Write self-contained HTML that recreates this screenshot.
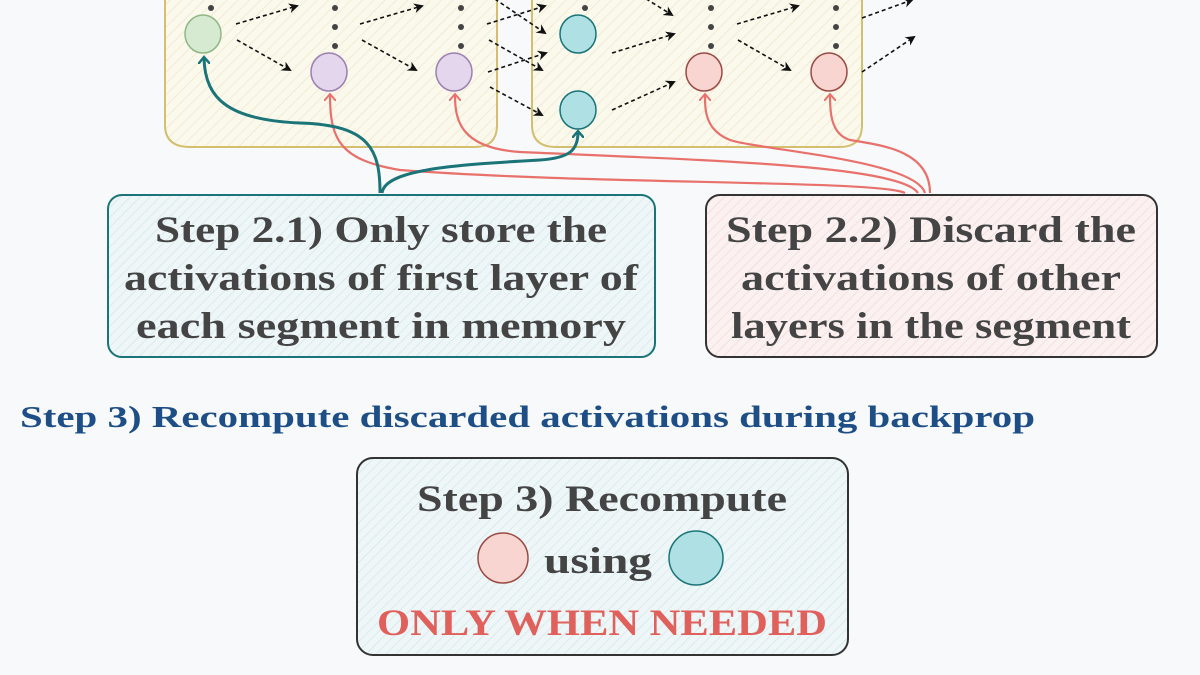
<!DOCTYPE html>
<html><head><meta charset="utf-8"><style>
html,body{margin:0;padding:0;background:#f8f9fb;}
svg{display:block}
text{font-family:"Liberation Serif",serif;font-weight:bold;}
</style></head><body>
<svg width="1200" height="675" viewBox="0 0 1200 675" xmlns="http://www.w3.org/2000/svg">
<defs>
<pattern id="hy" width="8" height="8" patternUnits="userSpaceOnUse" patternTransform="rotate(45)">
<rect width="8" height="8" fill="#fbf8ec"/><line x1="0" y1="0" x2="0" y2="8" stroke="#efe8cf" stroke-width="1.5"/></pattern>
<pattern id="hc" width="7" height="7" patternUnits="userSpaceOnUse" patternTransform="rotate(45)">
<rect width="7" height="7" fill="#eef6f7"/><line x1="0" y1="0" x2="0" y2="7" stroke="#cfe6ea" stroke-width="1.3"/></pattern>
<pattern id="hp" width="7" height="7" patternUnits="userSpaceOnUse" patternTransform="rotate(45)">
<rect width="7" height="7" fill="#fbf1f1"/><line x1="0" y1="0" x2="0" y2="7" stroke="#f3d6d6" stroke-width="1.3"/></pattern>
<marker id="ab" markerWidth="10" markerHeight="10" refX="8" refY="5" orient="auto" markerUnits="userSpaceOnUse"><path d="M0,0 L10,5 L0,10 L3,5z" fill="#111"/></marker>
<marker id="ar" markerWidth="12" markerHeight="12" refX="6" refY="6" orient="auto" markerUnits="userSpaceOnUse"><path d="M0,0 L7,6 L0,12" fill="none" stroke="#e8716c" stroke-width="2"/></marker>
<marker id="at" markerWidth="12" markerHeight="12" refX="6" refY="6" orient="auto" markerUnits="userSpaceOnUse"><path d="M0,0 L7,6 L0,12" fill="none" stroke="#1a7478" stroke-width="2.5"/></marker>
</defs>
<path d="M165,-20 L165,125 Q165,147 190,147 L475,147 Q497,147 497,125 L497,-20" fill="url(#hy)" stroke="#d3bf6e" stroke-width="2"/>
<path d="M532,-20 L532,125 Q532,147 556,147 L840,147 Q862,147 862,125 L862,-20" fill="url(#hy)" stroke="#d3bf6e" stroke-width="2"/>
<g fill="#444">
<circle cx="211" cy="8" r="3"/>
<circle cx="335" cy="8" r="3"/><circle cx="335" cy="27" r="3"/><circle cx="335" cy="46" r="3"/>
<circle cx="461" cy="8" r="3"/><circle cx="461" cy="27" r="3"/><circle cx="461" cy="46" r="3"/>
<circle cx="585" cy="8" r="3"/>
<circle cx="711" cy="8" r="3"/><circle cx="711" cy="27" r="3"/><circle cx="711" cy="46" r="3"/>
<circle cx="836" cy="8" r="3"/><circle cx="836" cy="27" r="3"/><circle cx="836" cy="46" r="3"/>
</g>
<g stroke="#111" stroke-width="1.6" stroke-dasharray="4,3" fill="none" marker-end="url(#ab)">
<path d="M236,24 L297,6"/><path d="M237,40 L290,70"/>
<path d="M360,24 L422,6"/><path d="M362,40 L416,70"/>
<path d="M487,24 L545,6" /><path d="M489,40 L542,70"/>
<path d="M488,72 L546,53"/><path d="M490,87 L542,115"/>
<path d="M489,-5 L545,33"/>
<path d="M612,53 L674,34"/><path d="M612,110 L674,82"/>
<path d="M640,-5 L672,15"/>
<path d="M737,24 L798,6"/><path d="M738,40 L790,70"/>
<path d="M862,18 L912,0"/><path d="M862,72 L914,37"/>
</g>
<ellipse cx="203" cy="34" rx="18" ry="19" fill="#d5ead0" stroke="#8fb885" stroke-width="1.5"/>
<ellipse cx="329" cy="72" rx="18" ry="19" fill="#e4d6ec" stroke="#9b80b0" stroke-width="1.5"/>
<ellipse cx="454" cy="72" rx="18" ry="19" fill="#e4d6ec" stroke="#9b80b0" stroke-width="1.5"/>
<ellipse cx="578" cy="34" rx="18" ry="19" fill="#aee0e4" stroke="#1a7478" stroke-width="1.5"/>
<ellipse cx="578" cy="110" rx="18" ry="19" fill="#aee0e4" stroke="#1a7478" stroke-width="1.5"/>
<ellipse cx="704" cy="72" rx="18" ry="19" fill="#f8d5d0" stroke="#9a4a45" stroke-width="1.5"/>
<ellipse cx="829" cy="72" rx="18" ry="19" fill="#f8d5d0" stroke="#9a4a45" stroke-width="1.5"/>
<g stroke="#e8716c" stroke-width="2.2" fill="none" marker-end="url(#ar)">
<path d="M905,193 C880,180 600,185 400,170 C340,160 330,140 330,95"/>
<path d="M918,193 C900,165 700,160 520,152 C460,148 455,120 455,95"/>
<path d="M925,193 C915,160 760,150 730,140 C705,130 705,110 705,95"/>
<path d="M930,193 C930,150 880,145 850,140 C830,134 830,110 830,95"/>
</g>
<g stroke="#1a7478" stroke-width="3" fill="none" marker-end="url(#at)">
<path d="M380,193 C380,150 370,125 300,123 C230,120 205,100 204,58"/>
<path d="M382,193 C385,170 450,165 540,160 C570,158 578,150 578,132"/>
</g>
<rect x="108" y="195" width="547" height="162" rx="14" fill="url(#hc)" stroke="#1a7478" stroke-width="2"/>
<text x="381" y="242" font-size="37" fill="#444" text-anchor="middle" textLength="452" lengthAdjust="spacingAndGlyphs">Step 2.1) Only store the</text>
<text x="381" y="290" font-size="37" fill="#444" text-anchor="middle" textLength="514" lengthAdjust="spacingAndGlyphs">activations of first layer of</text>
<text x="381" y="338" font-size="37" fill="#444" text-anchor="middle" textLength="490" lengthAdjust="spacingAndGlyphs">each segment in memory</text>
<rect x="706" y="195" width="451" height="162" rx="14" fill="url(#hp)" stroke="#333" stroke-width="2"/>
<text x="931" y="242" font-size="37" fill="#444" text-anchor="middle" textLength="410" lengthAdjust="spacingAndGlyphs">Step 2.2) Discard the</text>
<text x="931" y="290" font-size="37" fill="#444" text-anchor="middle" textLength="380" lengthAdjust="spacingAndGlyphs">activations of other</text>
<text x="931" y="338" font-size="37" fill="#444" text-anchor="middle" textLength="400" lengthAdjust="spacingAndGlyphs">layers in the segment</text>
<text x="20" y="427" font-size="31" fill="#1d4f86" textLength="1015" lengthAdjust="spacingAndGlyphs">Step 3) Recompute discarded activations during backprop</text>
<rect x="357" y="458" width="491" height="197" rx="16" fill="url(#hc)" stroke="#333" stroke-width="2"/>
<text x="602" y="511" font-size="37" fill="#444" text-anchor="middle" textLength="370" lengthAdjust="spacingAndGlyphs">Step 3) Recompute</text>
<circle cx="503" cy="558" r="25" fill="#f8d5d0" stroke="#9a4a45" stroke-width="1.5"/>
<text x="598" y="573" font-size="37" fill="#444" text-anchor="middle" textLength="108" lengthAdjust="spacingAndGlyphs">using</text>
<circle cx="696" cy="558" r="27" fill="#aee0e4" stroke="#1a7478" stroke-width="1.5"/>
<text x="602" y="635" font-size="37" fill="#e0615c" text-anchor="middle" textLength="450" lengthAdjust="spacingAndGlyphs">ONLY WHEN NEEDED</text>
</svg>
</body></html>
